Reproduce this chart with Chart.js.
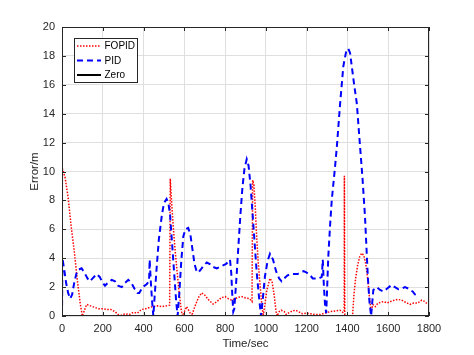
<!DOCTYPE html>
<html><head><meta charset="utf-8">
<script src="https://cdn.jsdelivr.net/npm/chart.js@4/dist/chart.umd.min.js"></script>
<style>html,body{margin:0;padding:0;background:#fff;}#wrap{width:474px;height:355px;}</style>
</head><body><div id="wrap"><canvas id="c" width="474" height="355"></canvas></div>
<script>
const seriesNames = ['FOPID', 'PID', 'Zero'];
const fopidTime = [0,2,15,30,45,60,75,90,100,110,121,140,160,180,200,220,240,260,275,290,310,330,350,370,390,410,430,450,470,490,510,528,531,538,545,555,565,575,585,590,600,611,625,636,650,670,685,700,720,741,760,780,800,815,832,850,865,881,900,920,932,935,941,948,954,962,971,980,987,995,1005,1020,1030,1040,1050,1055,1065,1075,1090,1100,1110,1130,1145,1160,1180,1200,1220,1240,1265,1290,1314,1340,1363,1378,1384,1385,1387,1425,1432,1440,1450,1460,1470,1480,1490,1500,1508,1516,1525,1536,1550,1565,1576,1595,1620,1645,1666,1685,1707,1725,1745,1764,1780,1790];
const fopidError = [0,10.2,9.6,8.2,6.2,4.5,2.5,0.8,0,0.4,0.8,0.7,0.6,0.5,0.5,0.45,0.45,0.3,0.1,0.05,0.15,0.1,0.25,0.2,0.45,0.5,0.6,0.65,0.7,0.65,0.7,0.75,9.5,7.8,6.3,4.5,3.0,1.6,0.4,0,0.3,0.65,0.3,0,0.6,1.3,1.6,1.45,1.1,0.83,1.0,1.25,1.34,1.2,1.1,1.2,1.3,1.34,1.25,1.2,1.0,9.4,9.1,7.5,5.7,3.8,2.2,0.8,0,0.8,1.8,2.6,2.4,1.5,0.3,0,0.3,0.4,0.3,0.1,0.2,0.35,0.4,0.3,0.15,0.2,0.15,0.1,0.1,0.2,0.3,0.35,0.4,0.25,0.3,9.7,0,0,1.5,2.6,3.5,4.1,4.35,4.2,3.6,2.5,1.3,0.3,0.8,0.65,0.9,0.95,1.0,0.9,1.05,1.15,1.1,0.95,0.8,0.9,0.9,1.1,1.0,0.85];
const pidTime = [0,2,10,20,30,40,50,60,70,80,96,110,125,137,150,170,185,200,211,225,244,260,275,293,310,325,340,355,370,379,395,415,427,430,435,442,448,455,465,475,490,500,513,522,530,540,550,560,567,575,585,595,605,619,630,640,650,660,668,680,695,710,725,740,759,775,790,805,824,830,835,840,845,855,865,875,885,895,906,915,925,935,945,955,965,976,985,995,1008,1020,1035,1050,1065,1077,1090,1105,1118,1135,1155,1170,1185,1200,1215,1230,1241,1260,1274,1279,1284,1290,1296,1306,1315,1323,1339,1348,1364,1380,1395,1404,1413,1421,1433,1446,1462,1474,1486,1500,1508,1516,1522,1527,1535,1543,1560,1576,1595,1617,1633,1650,1666,1682,1699,1707,1720,1731,1740];
const pidError = [0,4.0,3.3,2.3,1.6,1.2,1.5,2.3,2.9,3.2,3.3,3.0,2.6,2.4,2.6,2.9,2.7,2.3,2.1,2.3,2.5,2.4,2.1,2.0,2.3,2.5,2.3,1.9,1.6,1.6,2.0,2.2,2.4,3.9,2.5,1.0,0,1.5,3.5,5.3,7.0,7.8,8.1,7.8,7.0,5.0,3.0,1.0,0,1.5,3.8,5.5,6.0,6.1,5.6,4.6,3.6,3.1,3.0,3.2,3.5,3.7,3.6,3.4,3.3,3.4,3.5,3.6,3.9,3.0,1.5,0.3,0.5,2.5,4.8,7.0,8.9,10.2,10.85,10.4,9.0,7.0,5.0,3.0,1.5,0,1.2,2.7,3.8,4.3,3.9,3.1,2.6,2.4,2.6,2.8,2.9,2.9,2.9,3.0,3.1,3.0,2.85,2.6,2.6,2.6,2.7,3.9,2.2,0.8,0.2,4.1,6.3,8.0,10.3,11.7,14.7,17.3,18.4,18.5,18.2,17.3,16.0,14.7,11.7,9.5,6.9,2.7,1.0,0,1.0,1.8,1.9,2.0,1.8,1.7,1.9,2.15,2.0,1.85,1.9,2.0,1.9,1.8,1.7,1.5,1.45];
const zeroTime = [0, 1800];
const zeroError = [0, 0];
const xTicks = [0,200,400,600,800,1000,1200,1400,1600,1800];
const yTicks = [0,2,4,6,8,10,12,14,16,18,20];
const xTitle = 'Time/sec';
const yTitle = 'Error/m';

const pts = (t, v) => t.map((x, i) => ({x: x, y: v[i]}));
const FONT = '"Liberation Sans", Arial, Helvetica, sans-serif';
const AX = '#262626';

const framePlugin = {
  id: 'frame',
  afterDraw(chart) {
    const {ctx, chartArea: a, scales: {x, y}} = chart;
    ctx.save();
    ctx.strokeStyle = AX; ctx.lineWidth = 1;
    ctx.strokeRect(Math.round(a.left) + 0.5, Math.round(a.top) + 0.5, Math.round(a.right - a.left) - 1, Math.round(a.bottom - a.top) - 1);
    const L = 4;
    ctx.beginPath();
    xTicks.forEach(v => {
      const px = Math.round(x.getPixelForValue(v)) + 0.5;
      ctx.moveTo(px, a.bottom); ctx.lineTo(px, a.bottom - L);
      ctx.moveTo(px, a.top); ctx.lineTo(px, a.top + L);
    });
    yTicks.forEach(v => {
      const py = Math.round(y.getPixelForValue(v)) + 0.5;
      ctx.moveTo(a.left, py); ctx.lineTo(a.left + L, py);
      ctx.moveTo(a.right, py); ctx.lineTo(a.right - L, py);
    });
    ctx.stroke();
    // legend
    const bx = Math.round(a.left) + 12, by = Math.round(a.top) + 11, bw = 63, bh = 44;
    ctx.fillStyle = '#fff'; ctx.fillRect(bx, by, bw, bh);
    ctx.strokeStyle = AX; ctx.lineWidth = 1; ctx.strokeRect(bx + 0.5, by + 0.5, bw, bh);
    chart.data.datasets.forEach((ds, i) => {
      const cy = by + 8 + i * 14.5;
      ctx.strokeStyle = ds.borderColor; ctx.lineWidth = ds.borderWidth;
      ctx.setLineDash(ds.borderDash || []);
      ctx.beginPath(); ctx.moveTo(bx + 3, cy); ctx.lineTo(bx + 27, cy); ctx.stroke();
      ctx.setLineDash([]);
      ctx.fillStyle = '#000'; ctx.font = '10px ' + FONT; ctx.textBaseline = 'middle'; ctx.textAlign = 'left';
      ctx.fillText(ds.label, bx + 30.5, cy + 0.5);
    });
    ctx.restore();
  }
};

new Chart(document.getElementById('c'), {
  type: 'line',
  data: {
    datasets: [
      {label: seriesNames[0], data: pts(fopidTime, fopidError), borderColor: '#ff0000', borderWidth: 1.5, borderDash: [1.5, 1.5], order: 3},
      {label: seriesNames[1], data: pts(pidTime, pidError), borderColor: '#0000ff', borderWidth: 2, borderDash: [6, 4], order: 2},
      {label: seriesNames[2], data: pts(zeroTime, zeroError), borderColor: '#000000', borderWidth: 2, borderDash: [], order: 1}
    ]
  },
  options: {
    responsive: false, animation: false, devicePixelRatio: 1,
    elements: {point: {radius: 0}, line: {tension: 0, fill: false}},
    layout: {padding: {left: 0, top: 27, right: 45, bottom: 0}},
    plugins: {legend: {display: false}, tooltip: {enabled: false}},
    scales: {
      x: {
        type: 'linear', min: 0, max: 1800,
        afterBuildTicks: s => { s.ticks = xTicks.map(v => ({value: v})); },
        afterFit: s => { s.height = 39; },
        grid: {color: '#dfdfdf', drawTicks: false},
        border: {display: false},
        ticks: {color: AX, font: {family: FONT, size: 11}, padding: 6, maxRotation: 0, autoSkip: false, callback: v => String(v)},
        title: {display: true, text: xTitle, color: AX, font: {family: FONT, size: 11.5}, padding: {top: 0, bottom: 3.8}}
      },
      y: {
        type: 'linear', min: 0, max: 20,
        afterBuildTicks: s => { s.ticks = yTicks.map(v => ({value: v})); },
        afterFit: s => { s.width = 62; },
        grid: {color: '#dfdfdf', drawTicks: false},
        border: {display: false},
        ticks: {color: AX, font: {family: FONT, size: 11}, padding: 7, autoSkip: false, callback: v => String(v)},
        title: {display: true, text: yTitle, color: AX, font: {family: FONT, size: 11.5}, padding: {top: 28, bottom: 0}}
      }
    }
  },
  plugins: [framePlugin]
});
</script></body></html>
